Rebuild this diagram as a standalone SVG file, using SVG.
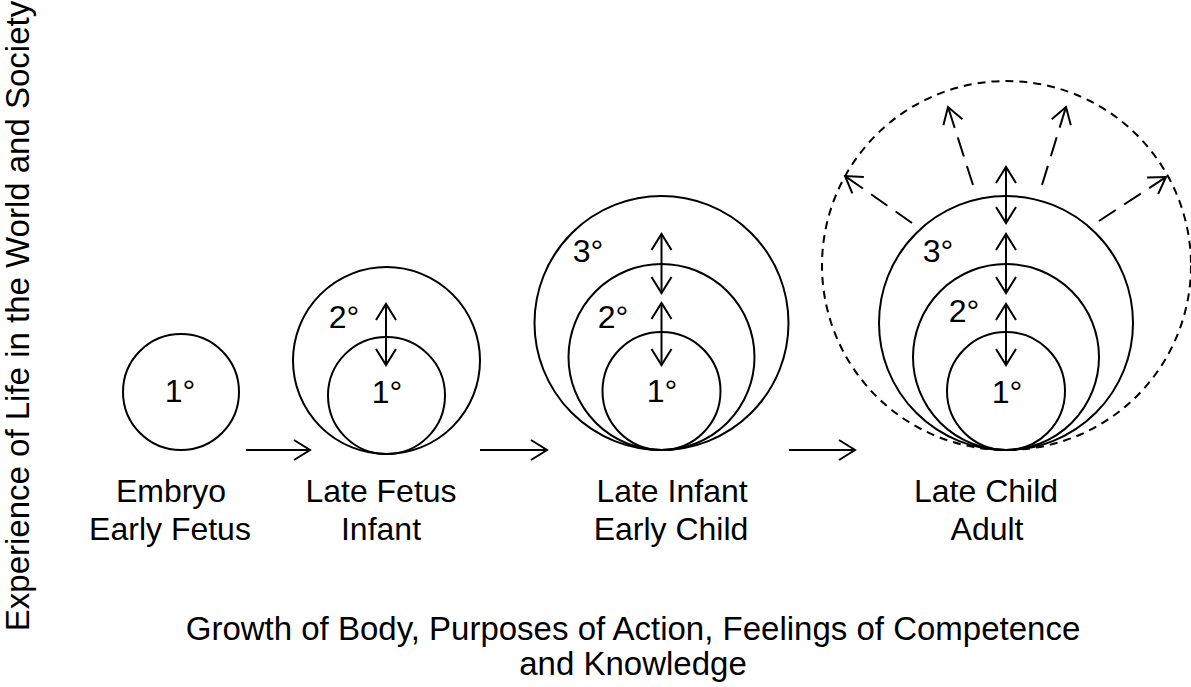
<svg xmlns="http://www.w3.org/2000/svg" width="1191" height="687" viewBox="0 0 1191 687">
<style>
.c{fill:none;stroke:#000;stroke-width:2}
.d{fill:none;stroke:#000;stroke-width:2;stroke-dasharray:8 6}
.a{fill:none;stroke:#000;stroke-width:2;marker-end:url(#ah)}
.b{fill:none;stroke:#000;stroke-width:2;marker-start:url(#ah);marker-end:url(#ah)}
.da{fill:none;stroke:#000;stroke-width:2;stroke-dasharray:20 10;marker-end:url(#ah)}
text{font-family:"Liberation Sans",Arial,sans-serif;font-size:32px;fill:#000;text-anchor:middle}
.ax{font-size:33px}
</style>
<defs>
<marker id="ah" markerUnits="userSpaceOnUse" viewBox="-2 -12 20 24" markerWidth="20" markerHeight="24" refX="16" refY="0" orient="auto-start-reverse" overflow="visible">
<path d="M0,-10 L16,0 L0,10" fill="none" stroke="#000" stroke-width="2"/>
</marker>
</defs>
<g id="stage1">
<circle class="c" cx="181" cy="392" r="58"/>
<text x="180" y="402">1°</text>
</g>
<g id="stage2">
<circle class="c" cx="386.5" cy="360.5" r="93.5"/>
<circle class="c" cx="386.5" cy="395.5" r="58.5"/>
<text x="344" y="328">2°</text>
<text x="387" y="403">1°</text>
</g>
<g id="stage3">
<circle class="c" cx="661.5" cy="323" r="127"/>
<circle class="c" cx="661.5" cy="357" r="93"/>
<circle class="c" cx="661.5" cy="391" r="59"/>
<text x="588" y="262">3°</text>
<text x="613" y="328">2°</text>
<text x="662" y="402">1°</text>
</g>
<g id="stage4">
<circle class="d" cx="1006.5" cy="265.5" r="184.5"/>
<circle class="c" cx="1006" cy="323" r="127"/>
<circle class="c" cx="1006" cy="357" r="93"/>
<circle class="c" cx="1006" cy="391" r="59"/>
<text x="938" y="262">3°</text>
<text x="964" y="322">2°</text>
<text x="1007" y="403">1°</text>
</g>
<g id="labels">
<text x="171" y="502">Embryo</text>
<text x="170" y="540">Early Fetus</text>
<text x="381" y="502">Late Fetus</text>
<text x="381" y="540">Infant</text>
<text x="672" y="502">Late Infant</text>
<text x="671" y="540">Early Child</text>
<text x="986" y="502">Late Child</text>
<text x="987" y="540">Adult</text>
</g>
<g id="axes">
<text class="ax" x="633" y="640">Growth of Body, Purposes of Action, Feelings of Competence</text>
<text class="ax" x="633" y="675">and Knowledge</text>
<text class="ax" transform="translate(29,316) rotate(-90)">Experience of Life in the World and Society</text>
</g>
<g id="connectors">
<line class="a" x1="246" y1="450" x2="310" y2="450"/>
<line class="a" x1="480" y1="450" x2="547" y2="450"/>
<line class="a" x1="789" y1="450" x2="855" y2="450"/>
<line class="b" x1="386" y1="304" x2="386" y2="365"/>
<line class="b" x1="661.5" y1="234" x2="661.5" y2="293"/>
<line class="b" x1="661.5" y1="303" x2="661.5" y2="365"/>
<line class="b" x1="1006" y1="167" x2="1006" y2="223"/>
<line class="b" x1="1006" y1="234" x2="1006" y2="293"/>
<line class="b" x1="1006" y1="304" x2="1006" y2="365"/>
<line class="da" x1="912" y1="223" x2="845" y2="176"/>
<line class="da" x1="1099" y1="221" x2="1166" y2="177"/>
<line class="da" x1="973" y1="185" x2="948" y2="107"/>
<line class="da" x1="1042" y1="185" x2="1066" y2="107"/>
</g>
</svg>
